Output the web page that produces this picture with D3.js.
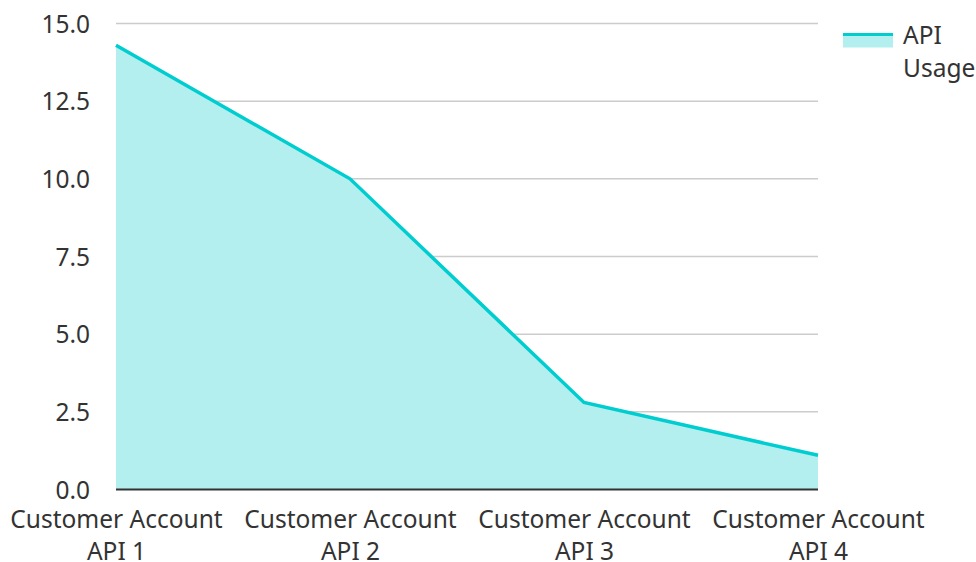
<!DOCTYPE html>
<html lang="en">
<head>
<meta charset="UTF-8">
<title>API Usage</title>
<script src="https://cdn.jsdelivr.net/npm/d3@7"></script>
<style>
  body { margin: 0; background: #fff; }
  text { font-family: "Noto Sans", sans-serif; fill: #333; }
</style>
</head>
<body>
<div id="chart"></div>
<script>
  var categories = ['Customer Account API 1', 'Customer Account API 2', 'Customer Account API 3', 'Customer Account API 4'];
  var usage = [14.3, 10.0, 2.8, 1.1];
  var yTicks = [0, 2.5, 5, 7.5, 10, 12.5, 15];
  var seriesName = 'API Usage';

  var w = 976, h = 562;
  var mLeft = 116, mRight = 818, mTop = 23.5, mBottom = 489.5;
  var fontSize = '24.5px';

  var svg = d3.select('#chart').append('svg')
    .attr('width', w)
    .attr('height', h);

  var xScale = d3.scalePoint()
    .domain(categories)
    .range([mLeft, mRight]);

  var yScale = d3.scaleLinear()
    .domain([0, 15])
    .range([mBottom, mTop]);

  // gridlines
  svg.append('g')
    .selectAll('line')
    .data(yTicks.filter(d => d > 0))
    .enter().append('line')
    .attr('x1', mLeft)
    .attr('x2', mRight)
    .attr('y1', d => yScale(d))
    .attr('y2', d => yScale(d))
    .attr('stroke', '#ccc')
    .attr('stroke-width', 1.5);

  var area = d3.area()
    .x((d, i) => xScale(categories[i]))
    .y0(yScale(0))
    .y1(d => yScale(d));

  var line = d3.line()
    .x((d, i) => xScale(categories[i]))
    .y(d => yScale(d));

  svg.append('path')
    .datum(usage)
    .attr('d', area)
    .attr('fill', '#b2efee');

  svg.append('path')
    .datum(usage)
    .attr('d', line)
    .attr('fill', 'none')
    .attr('stroke', '#00cdd0')
    .attr('stroke-width', 3.5);

  // y axis labels
  var yAxis = d3.axisLeft(yScale)
    .tickValues(yTicks)
    .tickFormat(d3.format('.1f'))
    .tickSize(0)
    .tickPadding(26);

  var yg = svg.append('g')
    .attr('transform', 'translate(' + mLeft + ',0)')
    .call(yAxis);
  yg.select('.domain').remove();
  yg.selectAll('text')
    .attr('font-size', fontSize)
    .attr('font-family', '"Noto Sans", sans-serif')
    .attr('fill', '#333')
    .attr('dy', '0.35em');

  // x axis
  var xAxis = d3.axisBottom(xScale).tickSize(0).tickFormat('');
  var xg = svg.append('g')
    .attr('transform', 'translate(0,' + mBottom + ')')
    .call(xAxis);
  xg.select('.domain')
    .attr('stroke', '#333')
    .attr('stroke-width', 2)
    .attr('d', 'M' + mLeft + ',0H' + mRight);

  xg.selectAll('.tick').each(function (d) {
    var words = d.split(' ');
    var l1 = words.slice(0, 2).join(' ');
    var l2 = words.slice(2).join(' ');
    var t = d3.select(this).append('text')
      .attr('text-anchor', 'middle')
      .attr('font-size', fontSize)
      .attr('font-family', '"Noto Sans", sans-serif')
      .attr('fill', '#333');
    t.append('tspan').attr('x', 0).attr('y', 38).text(l1);
    t.append('tspan').attr('x', 0).attr('y', 70).text(l2);
  });

  // legend
  var lg = svg.append('g').attr('transform', 'translate(843,34)');
  lg.append('rect')
    .attr('x', 0).attr('y', 1.5)
    .attr('width', 50).attr('height', 12)
    .attr('fill', '#b2efee');
  lg.append('line')
    .attr('x1', 0).attr('x2', 50)
    .attr('y1', 0.5).attr('y2', 0.5)
    .attr('stroke', '#00cdd0')
    .attr('stroke-width', 3);
  var lt = lg.append('text')
    .attr('font-size', fontSize)
    .attr('font-family', '"Noto Sans", sans-serif')
    .attr('fill', '#333');
  var nameParts = seriesName.split(' ');
  lt.append('tspan').attr('x', 60).attr('y', 10).text(nameParts[0]);
  lt.append('tspan').attr('x', 60).attr('y', 43).text(nameParts[1]);
</script>
</body>
</html>
